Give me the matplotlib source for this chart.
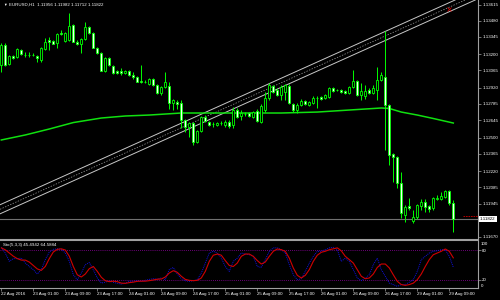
import matplotlib
matplotlib.use("Agg")
import matplotlib.pyplot as plt
import numpy as np
from matplotlib.lines import Line2D

plt.rcParams['font.family'] = ['Liberation Sans', 'DejaVu Sans']

# ---------------- data ----------------
symbol_title = "EURUSD,H1  1.11956 1.11982 1.11712 1.11822"
stoch_title = "Sto(5,3,3) 45.4942 64.5884"

opens = [1.13109, 1.13277, 1.13118, 1.13185, 1.13176, 1.13235, 1.13193, 1.13193, 1.13189, 1.13185,
         1.13151, 1.13243, 1.13319, 1.13310, 1.13294, 1.13377, 1.13310, 1.13319, 1.13444, 1.13302,
         1.13285, 1.13327, 1.13428, 1.13377, 1.13252, 1.13210, 1.13059, 1.13168, 1.13101, 1.13059,
         1.13059, 1.13042, 1.13059, 1.13025, 1.13009, 1.12975, 1.12971, 1.12950, 1.12992, 1.12942,
         1.12875, 1.12925, 1.12933, 1.12791, 1.12799, 1.12791, 1.12648, 1.12590, 1.12623, 1.12464,
         1.12556, 1.12674, 1.12632, 1.12615, 1.12606, 1.12623, 1.12606, 1.12632, 1.12606, 1.12732,
         1.12682, 1.12699, 1.12707, 1.12674, 1.12724, 1.12632, 1.12732, 1.12833, 1.12933, 1.12900,
         1.12858, 1.12883, 1.12933, 1.12782, 1.12732, 1.12774, 1.12808, 1.12774, 1.12791, 1.12833,
         1.12841, 1.12833, 1.12841, 1.12917, 1.12900, 1.12900, 1.12891, 1.12875, 1.12925, 1.12975,
         1.12858, 1.12850, 1.12900, 1.12875, 1.12900, 1.12984, 1.13009, 1.12774, 1.12363, 1.12338,
         1.12120, 1.11852, 1.11928, 1.11802, 1.11836, 1.11928, 1.11961, 1.11928, 1.11911, 1.11986,
         1.11986, 1.12003, 1.12053, 1.11956]
highs = [1.13294, 1.13294, 1.13193, 1.13193, 1.13252, 1.13243, 1.13218, 1.13218, 1.13210, 1.13193,
         1.13260, 1.13336, 1.13344, 1.13319, 1.13377, 1.13403, 1.13386, 1.13545, 1.13453, 1.13319,
         1.13336, 1.13470, 1.13436, 1.13386, 1.13260, 1.13218, 1.13176, 1.13176, 1.13109, 1.13067,
         1.13084, 1.13067, 1.13067, 1.13051, 1.13017, 1.13109, 1.12984, 1.13000, 1.13000, 1.12950,
         1.12933, 1.13051, 1.12967, 1.12824, 1.12816, 1.12816, 1.12657, 1.12632, 1.12632, 1.12565,
         1.12682, 1.12690, 1.12640, 1.12632, 1.12632, 1.12640, 1.12648, 1.12648, 1.12757, 1.12749,
         1.12732, 1.12715, 1.12715, 1.12724, 1.12741, 1.12782, 1.12883, 1.12958, 1.12942, 1.12917,
         1.12942, 1.12950, 1.12950, 1.12791, 1.12791, 1.12824, 1.12816, 1.12808, 1.12850, 1.12850,
         1.12850, 1.12866, 1.12925, 1.12925, 1.12908, 1.12908, 1.12900, 1.12933, 1.13067, 1.12984,
         1.12958, 1.12942, 1.12917, 1.12942, 1.13093, 1.13051, 1.13394, 1.12782, 1.12372, 1.12347,
         1.12213, 1.11936, 1.11995, 1.11894, 1.11944, 1.11986, 1.11986, 1.11936, 1.12003, 1.12020,
         1.12045, 1.12062, 1.12062, 1.11982]
lows = [1.13051, 1.13101, 1.13109, 1.13160, 1.13168, 1.13193, 1.13176, 1.13176, 1.13185, 1.13134,
        1.13134, 1.13235, 1.13235, 1.13285, 1.13252, 1.13361, 1.13302, 1.13310, 1.13302, 1.13277,
        1.13210, 1.13319, 1.13369, 1.13252, 1.13201, 1.13059, 1.13051, 1.13101, 1.13034, 1.13034,
        1.13025, 1.13034, 1.13017, 1.12992, 1.12967, 1.12958, 1.12958, 1.12942, 1.12933, 1.12866,
        1.12858, 1.12917, 1.12741, 1.12732, 1.12741, 1.12581, 1.12548, 1.12506, 1.12439, 1.12456,
        1.12548, 1.12632, 1.12598, 1.12590, 1.12598, 1.12606, 1.12590, 1.12581, 1.12581, 1.12665,
        1.12648, 1.12682, 1.12674, 1.12665, 1.12632, 1.12623, 1.12715, 1.12816, 1.12875, 1.12850,
        1.12816, 1.12816, 1.12782, 1.12715, 1.12707, 1.12766, 1.12774, 1.12766, 1.12782, 1.12749,
        1.12816, 1.12824, 1.12833, 1.12883, 1.12891, 1.12875, 1.12866, 1.12866, 1.12917, 1.12850,
        1.12816, 1.12824, 1.12866, 1.12866, 1.12816, 1.12975, 1.12397, 1.12271, 1.12129, 1.12079,
        1.11827, 1.11794, 1.11894, 1.11785, 1.11819, 1.11894, 1.11877, 1.11877, 1.11894, 1.11978,
        1.11978, 1.11995, 1.11936, 1.11712]
closes = [1.13277, 1.13109, 1.13185, 1.13168, 1.13243, 1.13201, 1.13189, 1.13190, 1.13193, 1.13168,
          1.13252, 1.13302, 1.13302, 1.13285, 1.13369, 1.13369, 1.13377, 1.13436, 1.13302, 1.13285,
          1.13327, 1.13428, 1.13377, 1.13252, 1.13210, 1.13059, 1.13168, 1.13109, 1.13042, 1.13042,
          1.13042, 1.13059, 1.13025, 1.13009, 1.12967, 1.12967, 1.12965, 1.12992, 1.12942, 1.12875,
          1.12925, 1.12967, 1.12791, 1.12816, 1.12782, 1.12648, 1.12590, 1.12623, 1.12464, 1.12556,
          1.12674, 1.12640, 1.12606, 1.12613, 1.12623, 1.12621, 1.12632, 1.12598, 1.12732, 1.12674,
          1.12707, 1.12697, 1.12682, 1.12715, 1.12640, 1.12766, 1.12833, 1.12942, 1.12883, 1.12858,
          1.12925, 1.12942, 1.12791, 1.12732, 1.12774, 1.12808, 1.12782, 1.12799, 1.12833, 1.12830,
          1.12824, 1.12858, 1.12917, 1.12891, 1.12898, 1.12883, 1.12875, 1.12925, 1.12975, 1.12858,
          1.12891, 1.12891, 1.12875, 1.12917, 1.12984, 1.13025, 1.12774, 1.12355, 1.12338, 1.12120,
          1.11869, 1.11919, 1.11911, 1.11836, 1.11936, 1.11961, 1.11919, 1.11903, 1.11995, 1.11995,
          1.12012, 1.12053, 1.11956, 1.11822]

# moving average read at sampled bars
ma_bars = [0, 6, 12, 18, 25, 31, 37, 45, 62, 70, 79, 87, 95, 97, 100, 104, 108, 113]
ma_values = [1.12481, 1.12523, 1.12573, 1.12627, 1.12665, 1.12682, 1.12690, 1.12707, 1.12707,
             1.12707, 1.12715, 1.12732, 1.12749, 1.12745, 1.12715, 1.12690, 1.12661, 1.12623]

# stochastic %K (main, dotted blue) and %D (signal, red)
stoch_k = [86, 74.5, 57.5, 63, 63, 64, 54, 47, 40.5, 31.6,
           40.5, 61, 76.5, 82, 83, 82, 74.5, 57.5, 30, 20,
           33.7, 50.7, 55, 40.5, 23.5, 13, 15, 18, 14.6, 12.6,
           11, 13, 16.7, 16.7, 18, 16.7, 18.7, 20.7, 22, 21,
           23.5, 20, 40.5, 45, 31.6, 22, 18, 16.7, 18, 20,
           33.7, 54, 74.5, 78, 74.5, 64, 47, 37, 57.5, 64,
           74.5, 72.4, 71, 67.7, 47, 45, 61, 78, 85, 85,
           81.3, 74.5, 50.7, 30, 20, 22, 37, 54, 67.7, 78,
           78, 81.3, 85, 86, 81.3, 57.5, 64, 57.5, 40.5, 23.5,
           18, 23.5, 30, 50.7, 64, 40.5, 27, 13, 10, 6.5,
           10, 10, 15, 20, 37, 61, 67.7, 74.5, 78, 79,
           81.3, 81.3, 67.7, 45.4942]
stoch_d = [85, 81, 74.5, 68, 63, 60, 60, 56, 49, 42,
           39, 47, 63, 76.5, 82, 83, 80.6, 68, 47, 30,
           25.5, 31.6, 42.5, 47, 37, 25, 18, 16, 17, 16,
           13, 12.6, 14, 15, 16.7, 17, 17, 18, 19.4, 21,
           21.4, 25.5, 33.7, 38.4, 35, 27, 20.7, 18.7, 18, 18.7,
           23.5, 37, 57.5, 70, 72.4, 70, 59, 49, 47, 54,
           67.7, 72.4, 72.4, 67.7, 59, 52, 56, 67.7, 78, 82.7,
           81.3, 78, 64, 44, 29, 23.5, 29, 40.5, 57.5, 70,
           76, 78, 81.3, 83, 85, 79, 67.7, 61, 54, 40.5,
           27, 22, 23.5, 31.6, 45, 52, 52, 44, 30, 16.7,
           10, 8.5, 10, 13, 20, 31.6, 47, 61, 71, 74.5,
           78, 82.7, 78, 64.5884]
stoch_levels = [80, 20]

price_ticks = [1.13615, 1.13480, 1.13345, 1.13200, 1.13065, 1.12920, 1.12785,
               1.12645, 1.12500, 1.12365, 1.12220, 1.12085, 1.11945, 1.11670]
current_price = 1.11822
ask_price = 1.11840

time_tick_bars = [0, 8, 16, 24, 32, 40, 48, 56, 64, 72, 80, 88, 96, 104, 112]
time_tick_labels = ["22 Aug 2016", "23 Aug 01:00", "23 Aug 09:00", "23 Aug 17:00",
                    "24 Aug 01:00", "24 Aug 09:00", "24 Aug 17:00", "25 Aug 01:00",
                    "25 Aug 09:00", "25 Aug 17:00", "26 Aug 01:00", "26 Aug 09:00",
                    "26 Aug 17:00", "29 Aug 01:00", "29 Aug 09:00"]

# channel trend lines: (bar, price) anchors
chan_upper = [(0, 1.11943), (110, 1.13602)]
chan_lower = [(0, 1.11867), (110, 1.13526)]
chan_mid = [(0, 1.11905), (110, 1.13564)]
marker_anchor = (111.9, 1.13579)

# ---------------- figure ----------------
W, H = 500, 300
fig = plt.figure(figsize=(W / 100, H / 100), dpi=100, facecolor="black")

def fy(py):
    return 1 - py / H

FS = 3.2
LIME = "#00ff00"
GRAY = "#a0a0a0"

main_bottom_px = 238.5
ax = fig.add_axes([0, fy(main_bottom_px), 478 / W, main_bottom_px / H])
ax.set_facecolor("black")
xlim = (-0.325, 119.175)
ax.set_xlim(*xlim)
ax.set_ylim(1.116554, 1.13654)

n = len(opens)
idx = np.arange(n)
o = np.array(opens); h = np.array(highs); l = np.array(lows); c = np.array(closes)

# channel lines
for anc in (chan_upper, chan_lower):
    ax.axline(anc[0], anc[1], color="#c8c8c8", lw=0.7, zorder=1)
ax.axline(chan_mid[0], chan_mid[1], color="#a0a0a0", lw=0.5, ls=(0, (2, 2)), zorder=1)

# current price line
ax.axhline(current_price, color="#707070", lw=0.8, zorder=1)

# MA line
ax.plot(ma_bars, ma_values, color="#10e010", lw=1.1, zorder=2)

# candles
ax.vlines(idx, l, h, color=LIME, lw=0.7, zorder=3)
bull = c >= o
body_bottom = np.minimum(o, c)
body_h = np.maximum(np.abs(c - o), 0.000015)
ax.bar(idx[bull], body_h[bull], bottom=body_bottom[bull], width=0.55,
       facecolor="black", edgecolor=LIME, lw=0.6, zorder=4)
ax.bar(idx[~bull], body_h[~bull], bottom=body_bottom[~bull], width=0.55,
       facecolor="#f0fff0", edgecolor=LIME, lw=0.6, zorder=4)

# ask line (red dashed) and trendline anchor marker
ax.plot([115.4, xlim[1]], [ask_price, ask_price], color="#d00000", lw=0.6, ls=(0, (2, 1)), zorder=5)
ax.plot([marker_anchor[0]], [marker_anchor[1]], marker="x", color="#d00000", ms=2.5, mew=0.6, zorder=5)

ax.yaxis.tick_right()
ax.set_yticks(price_ticks)
ax.set_yticklabels([f"{p:.5f}" for p in price_ticks])
ax.tick_params(axis="y", length=2, width=0.5, color=GRAY, labelsize=FS, labelcolor="white", pad=1)
ax.set_xticks([])
for s in ("left", "top", "bottom"):
    ax.spines[s].set_visible(False)
ax.spines["right"].set_color(GRAY)
ax.spines["right"].set_linewidth(0.8)

ax.text(1.004, current_price, f"{current_price:.5f}", transform=ax.get_yaxis_transform(),
        fontsize=FS, color="black", va="center", ha="left",
        bbox=dict(boxstyle="square,pad=0.25", fc="white", ec="white", lw=0))

ax.text(3 / 478, 1 - 5 / main_bottom_px, "\u25BC", transform=ax.transAxes, fontsize=2.6,
        color="white", va="center", ha="left")
ax.text(9 / 478, 1 - 5 / main_bottom_px, symbol_title, transform=ax.transAxes, fontsize=FS,
        color="white", va="center", ha="left")

# separator between panes
fig.add_artist(Line2D([0, 478 / W], [fy(239.5), fy(239.5)], color=GRAY, lw=1.5))

# ---------------- stochastic pane ----------------
sub_top, sub_bot = 241, 288
sx = fig.add_axes([0, fy(sub_bot), 478 / W, (sub_bot - sub_top) / H])
sx.set_facecolor("black")
sx.set_xlim(*xlim)
sx.set_ylim(3.06, 99)
for lv in stoch_levels:
    sx.axhline(lv, color="#9000a0", lw=0.6, ls=(0, (1, 1.5)))
sx.plot(idx, stoch_k, color="#1010e0", lw=0.7, ls=(0, (1, 1)))
sx.plot(idx, stoch_d, color="#d00000", lw=0.8)

sx.yaxis.tick_right()
sx.set_yticks(stoch_levels)
sx.set_yticklabels([str(v) for v in stoch_levels])
sx.tick_params(axis="y", length=2, width=0.5, color=GRAY, labelsize=FS, labelcolor="white", pad=1)
sx.set_xticks(time_tick_bars)
sx.set_xticklabels(time_tick_labels, ha="left")
sx.tick_params(axis="x", length=2, width=0.5, color=GRAY, labelsize=FS, labelcolor="white", pad=0.8)
sx.spines["top"].set_visible(False)
sx.spines["left"].set_visible(False)
for s in ("right", "bottom"):
    sx.spines[s].set_color(GRAY)
    sx.spines[s].set_linewidth(0.8)

fig.text(481 / W, fy(243.7), "100", fontsize=FS, color="white", va="center", ha="left")
fig.text(481 / W, fy(286.3), "0", fontsize=FS, color="white", va="center", ha="left")
sx.text(3 / 478, 1 - 4 / (sub_bot - sub_top), stoch_title, transform=sx.transAxes,
        fontsize=FS, color="white", va="center", ha="left")

fig.savefig("out.png", dpi=100, facecolor="black")
